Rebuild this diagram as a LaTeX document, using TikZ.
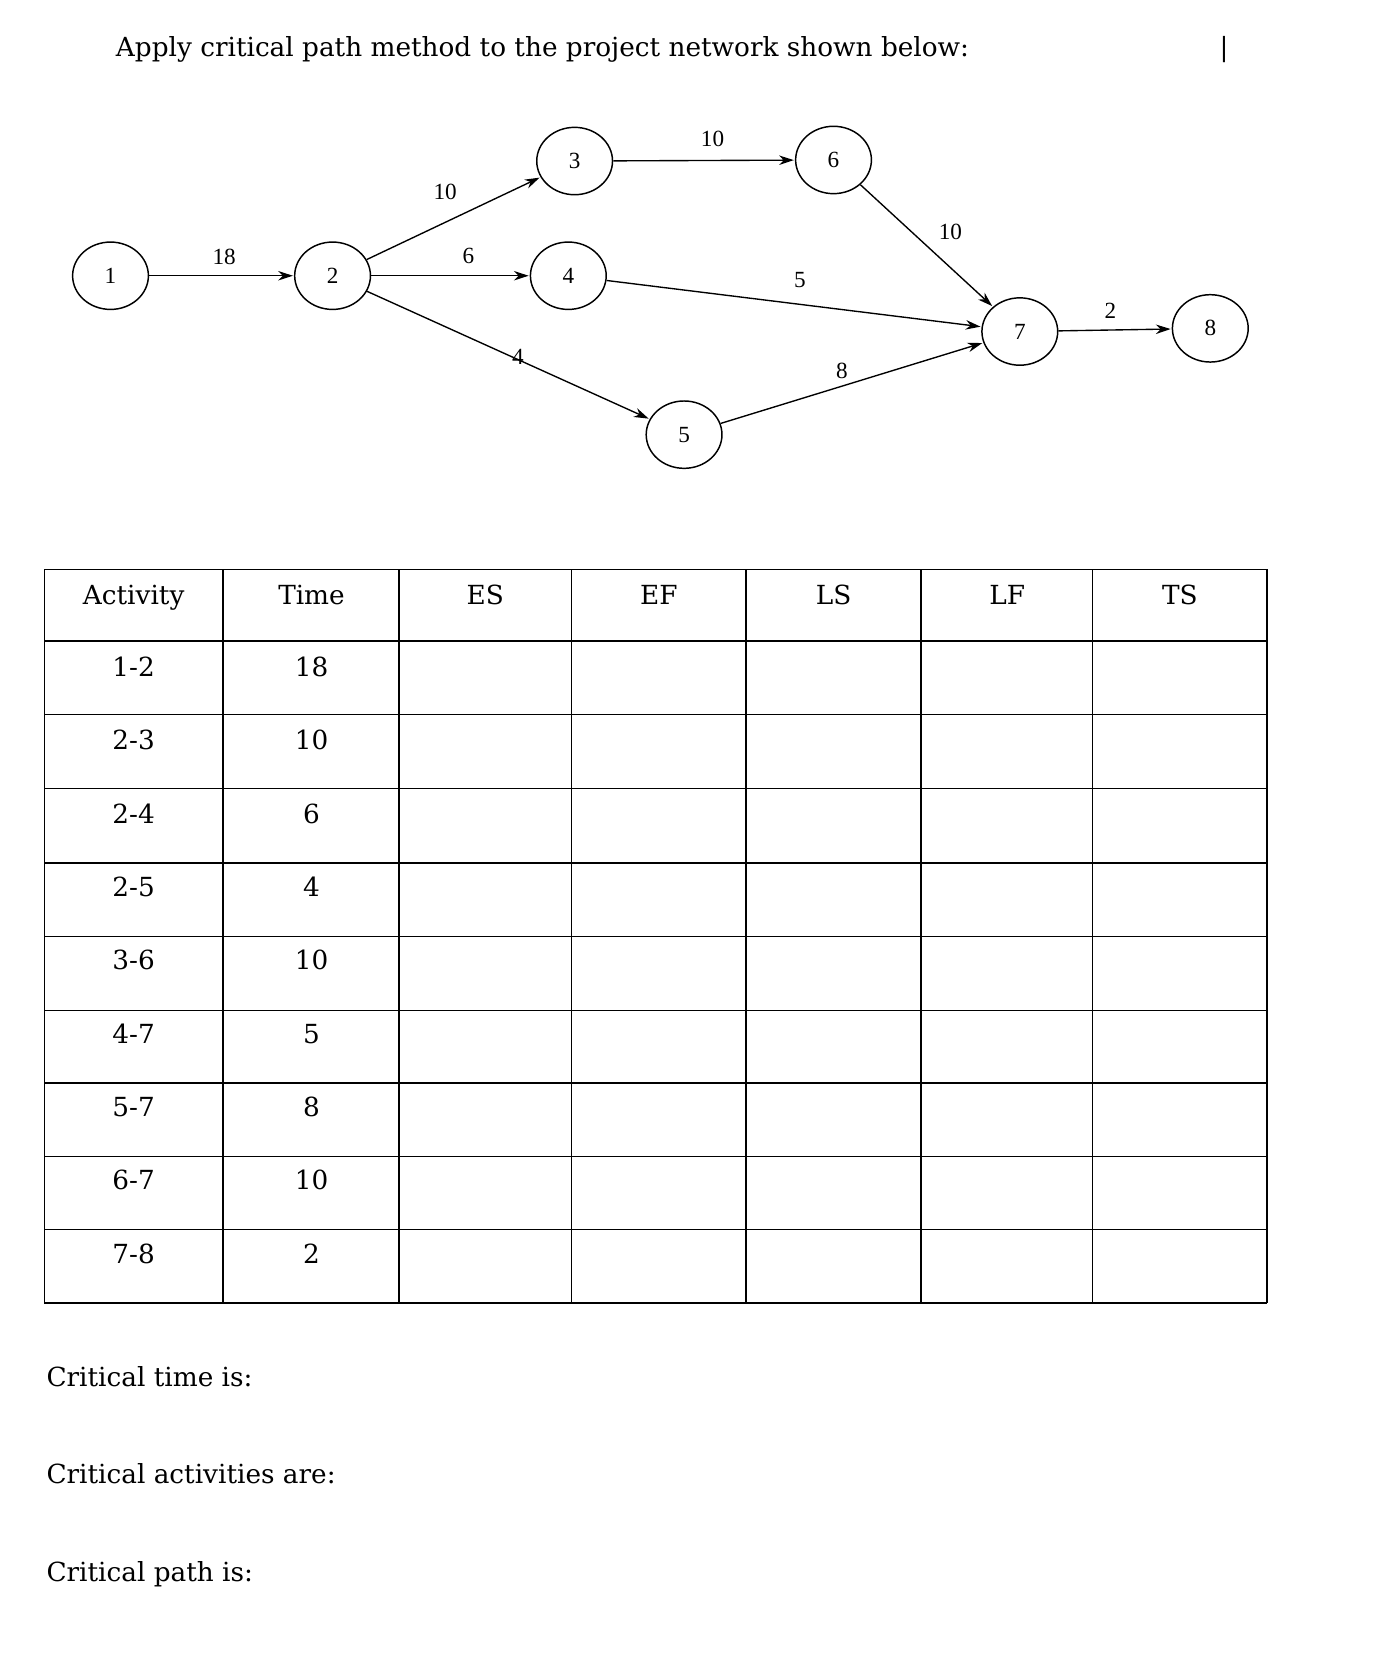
\documentclass[tikz,border=0pt]{standalone}
\usepackage{fontspec}
\setmainfont{Liberation Serif}
\newfontfamily\bigfont{DejaVu Serif}
\usetikzlibrary{arrows.meta,shapes.geometric}
\begin{document}
\begin{tikzpicture}[x=1pt,y=-1pt,
  ev/.style={draw,line width=1.4pt,ellipse,minimum width=72pt,minimum height=64pt,inner sep=0pt,font=\fontsize{22}{24}\selectfont},
  act/.style={line width=1.3pt,-{Stealth[length=14pt,width=9pt]},shorten >=1pt},
  lab/.style={font=\fontsize{22}{24}\selectfont,inner sep=0pt},
  big/.style={font=\bigfont\fontsize{25}{30}\selectfont,inner sep=0pt,text height=19pt,text depth=5pt},
  grid/.style={line width=1.3pt}]
\useasboundingbox (0,0) rectangle (1330,1583);
\node[big,anchor=west] (title) at (110,47) {Apply critical path method to the project network shown below:};
\node[big] (cur) at (1163,47) {|};
% events
\node[ev] (n1) at (105,262) {1};
\node[ev] (n2) at (316,262) {2};
\node[ev] (n3) at (546,153) {3};
\node[ev] (n4) at (540,262) {4};
\node[ev] (n5) at (650,413) {5};
\node[ev] (n6) at (792,152) {6};
\node[ev] (n7) at (969,315) {7};
\node[ev] (n8) at (1150,312) {8};
\draw[act] (n1) -- (n2);
\draw[act] (n2) -- (n3);
\draw[act] (n2) -- (n4);
\draw[act] (n2) -- (n5);
\draw[act] (n3) -- (n6);
\draw[act] (n4) -- (n7);
\draw[act] (n5) -- (n7);
\draw[act] (n6) -- (n7);
\draw[act] (n7) -- (n8);
\node[lab] (l12) at (213,244) {18};
\node[lab] (l23) at (423,182) {10};
\node[lab] (l24) at (445,243) {6};
\node[lab] (l25) at (492,339) {4};
\node[lab] (l36) at (677,132) {10};
\node[lab] (l67) at (903,220) {10};
\node[lab] (l47) at (760,266) {5};
\node[lab] (l57) at (800,352) {8};
\node[lab] (l78) at (1055,295) {2};
% table
\foreach \x in {42,212,379,543,709,875,1038,1204} \draw[grid] (\x,541) -- (\x,1238);
\foreach \y in {541,609,679,749,820,890,960,1029,1099,1168,1238} \draw[grid] (42,\y) -- (1204,\y);
\foreach \t/\xc [count=\i] in {Activity/127,Time/296,ES/461,EF/626,LS/792,LF/957,TS/1121}{
  \node[big] (h\i) at (\xc,567) {\t};}
\foreach \a/\tm [count=\r] in {1-2/18,2-3/10,2-4/6,2-5/4,3-6/10,4-7/5,5-7/8,6-7/10,7-8/2}{
  \node[big] (a\r) at (127,{566+69.7*\r}) {\a};
  \node[big] (t\r) at (296,{566+69.7*\r}) {\tm};}
\node[big,anchor=west] (ct) at (44,1310) {Critical time is:};
\node[big,anchor=west] (ca) at (44,1403) {Critical activities are:};
\node[big,anchor=west] (cp) at (44,1496) {Critical path is:};
\end{tikzpicture}
\end{document}
